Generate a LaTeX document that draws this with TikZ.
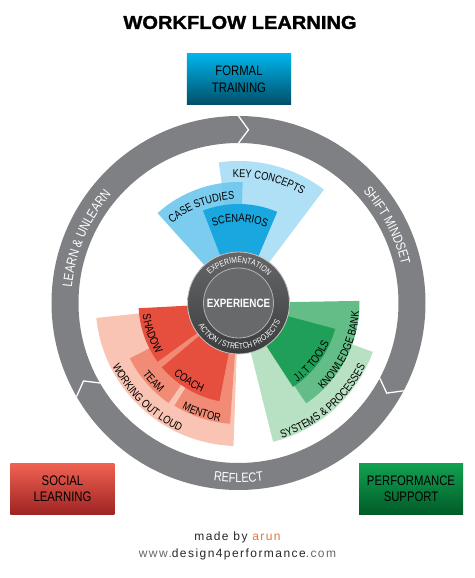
\documentclass[tikz,border=0pt]{standalone}
\usepackage{fontspec}
\setmainfont{Liberation Sans}
\newfontfamily\narrowfont{Liberation Sans}[FakeStretch=0.82]
\newfontfamily\titlefont{Liberation Sans}[FakeStretch=1.08,BoldFeatures={FakeBold=1.5}]
\newfontfamily\webfont{Liberation Sans}[LetterSpace=12]
\usepackage{tikz}
\usetikzlibrary{decorations.text}

\definecolor{ringgrey}{HTML}{7F8084}
\definecolor{ftTop}{HTML}{00B4EB}
\definecolor{ftMid}{HTML}{00A6D8}
\definecolor{ftBot}{HTML}{004E66}
\definecolor{slTop}{HTML}{F16251}
\definecolor{slMid}{HTML}{E14A3E}
\definecolor{slBot}{HTML}{9E2424}
\definecolor{psTop}{HTML}{12A152}
\definecolor{psMid}{HTML}{0B9448}
\definecolor{psBot}{HTML}{005C27}
\definecolor{keyblue}{HTML}{B0E0F6}
\definecolor{caseblue}{HTML}{70C8EE}
\definecolor{scenblue}{HTML}{1AA6DE}
\definecolor{loudred}{HTML}{F9C4B4}
\definecolor{teamred}{HTML}{F28B76}
\definecolor{shadowred}{HTML}{E64E3E}
\definecolor{sysgreen}{HTML}{B8E0C3}
\definecolor{kbgreen}{HTML}{62BD86}
\definecolor{jitgreen}{HTML}{1F9F57}
\definecolor{discdark}{HTML}{4B4C4E}
\definecolor{disclight}{HTML}{68696B}
\definecolor{arun}{HTML}{E0783C}

\newcommand\lblfont{\narrowfont\fontsize{11.3}{12}\selectfont}
\newcommand\ringfont{\narrowfont\fontsize{13.4}{14}\selectfont}
\newcommand\discfont{\narrowfont\fontsize{8.3}{9}\selectfont}

\begin{document}
\begin{tikzpicture}[x=1pt,y=1pt,
box/.style={shade,minimum width=104pt,minimum height=51pt,align=center,
  font=\narrowfont\fontsize{13.8}{16.5}\selectfont},
arctext/.style={decorate,decoration={text along path,text align=center,text={#1}}},
whitetext/.style={decorate,decoration={text along path,text align=center,
  text color=white,text={#1}}},
chevron/.style={white,line width=1.3pt}]
\useasboundingbox (-238.5,-275) rectangle (235.5,303);

% outer cycle
\fill[ringgrey,even odd rule] (0,0) circle[radius=187] (0,0) circle[radius=160];
\draw[chevron] (90:160) -- (86.7:173.5) -- (90:187);
\draw[chevron] (-28:160) -- (-31.3:173.5) -- (-28:187);
\draw[chevron] (210:160) -- (206.7:173.5) -- (210:187);

% formal training fan
\fill[keyblue] (0,0) -- (98:142) arc[start angle=98,end angle=53,radius=142] -- cycle;
\fill[caseblue,fill opacity=0.92] (0,0) -- (132:121) arc[start angle=132,end angle=88,radius=121] -- cycle;
\fill[scenblue] (0,0) -- (111:99) arc[start angle=111,end angle=67,radius=99] -- cycle;

% social learning fan
\fill[loudred] (0,0) -- (186:143) arc[start angle=186,end angle=268,radius=143] -- cycle;
\fill[teamred] (0,0) -- (207:122) arc[start angle=207,end angle=235,radius=122] -- cycle;
\fill[teamred] (0,0) -- (238:121) arc[start angle=238,end angle=266,radius=121] -- cycle;
\fill[shadowred] (0,0) -- (183:100) arc[start angle=183,end angle=216,radius=100] -- cycle;
\fill[shadowred] (0,0) -- (220:100) arc[start angle=220,end angle=259,radius=100] -- cycle;

% performance support fan
\fill[sysgreen] (0,0) -- (-76:143) arc[start angle=-76,end angle=-20,radius=143] -- cycle;
\fill[kbgreen] (0,0) -- (-56:121) arc[start angle=-56,end angle=1,radius=121] -- cycle;
\fill[jitgreen] (0,0) -- (-57:100) arc[start angle=-57,end angle=-15,radius=100] -- cycle;

% centre
\shade[top color=discdark!85!white,bottom color=discdark!80!black,draw=gray!45,line width=0.8pt]
  (0,0) circle[radius=51];
\fill[disclight,draw=gray!60,line width=0.8pt] (0,0) circle[radius=35];
\node[font=\narrowfont\bfseries\fontsize{12}{12}\selectfont,text=white] (experience) at (0,0) {EXPERIENCE};
\path[whitetext={|\discfont|EXPERIMENTATION}] (154:40) arc[start angle=154,end angle=24,radius=40];
\path[whitetext={|\discfont|ACTION / STRETCH PROJECTS}] (192.5:46) arc[start angle=192.5,end angle=352.5,radius=46];

% labels on the fans
\path[arctext={|\lblfont|KEY CONCEPTS}] (101:125.5) arc[start angle=101,end angle=51,radius=125.5];
\path[arctext={|\lblfont|CASE STUDIES}] (139:103.5) arc[start angle=139,end angle=83,radius=103.5];
\path[arctext={|\lblfont|SCENARIOS}] (119:81) arc[start angle=119,end angle=59,radius=81];
\path[arctext={|\lblfont|SHADOW}] (174.5:96.5) arc[start angle=174.5,end angle=224.5,radius=96.5];
\path[arctext={|\lblfont|TEAM}] (202.7:119.5) arc[start angle=202.7,end angle=242.7,radius=119.5];
\path[arctext={|\lblfont|COACH}] (212.6:96.5) arc[start angle=212.6,end angle=262.6,radius=96.5];
\path[arctext={|\lblfont|MENTOR}] (229.5:120) arc[start angle=229.5,end angle=273.5,radius=120];
\path[arctext={|\lblfont|WORKING OUT LOUD}] (196:141) arc[start angle=196,end angle=256,radius=141];
\path[arctext={|\lblfont|J.I.T TOOLS}] (-66.5:99) arc[start angle=-66.5,end angle=-10.5,radius=99];
\path[arctext={|\lblfont|KNOWLEDGE BANK}] (-55:121) arc[start angle=-55,end angle=5,radius=121];
\path[arctext={|\lblfont|SYSTEMS {\&} PROCESSES}] (-81.4:142) arc[start angle=-81.4,end angle=-17.4,radius=142];

% labels on the cycle
\path[whitetext={|\ringfont|SHIFT MINDSET}] (49.5:167.3) arc[start angle=49.5,end angle=5.5,radius=167.3];
\path[whitetext={|\ringfont|LEARN {\&} UNLEARN}] (179:167.3) arc[start angle=179,end angle=135,radius=167.3];
\path[whitetext={|\ringfont|REFLECT}] (255:179.5) arc[start angle=255,end angle=285,radius=179.5];

% boxes
\node[box,top color=ftTop,middle color=ftMid,bottom color=ftBot] (formal) at (0.5,223.5) {FORMAL\\TRAINING};
\node[box,top color=slTop,middle color=slMid,bottom color=slBot] (social) at (-176,-185.5) {SOCIAL\\LEARNING};
\node[box,top color=psTop,middle color=psMid,bottom color=psBot] (support) at (172.5,-185.5) {PERFORMANCE\\SUPPORT};

\node[font=\titlefont\bfseries\fontsize{18.6}{19}\selectfont] (title) at (1.5,280.5) {WORKFLOW LEARNING};
\node[font=\webfont\fontsize{12}{12}\selectfont,text=black!85] (madeby) at (-1,-234) {made by \textcolor{arun}{arun}};
\node[font=\webfont\fontsize{12}{12}\selectfont,text=black!85] (site) at (-1,-251)
  {\textcolor{black!60}{www.}design4performance\textcolor{black!60}{.com}};
\end{tikzpicture}
\end{document}
